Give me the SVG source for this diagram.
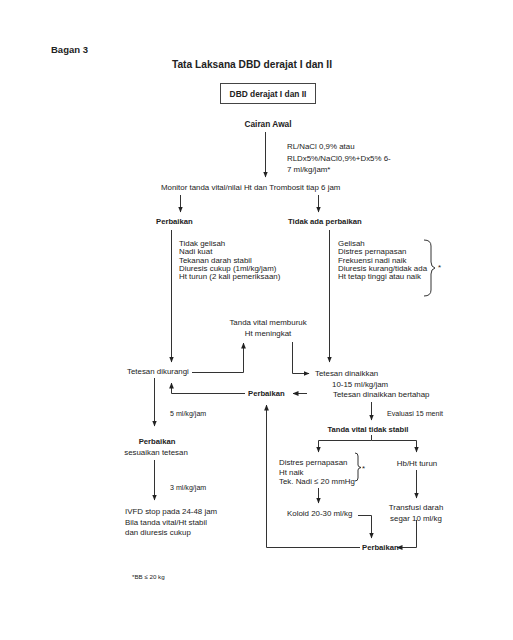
<svg xmlns="http://www.w3.org/2000/svg" width="513" height="640" viewBox="0 0 513 640">
<defs>
<marker id="ah" markerUnits="userSpaceOnUse" markerWidth="6" markerHeight="6" viewBox="0 0 6 6" refX="5.5" refY="3" orient="auto">
<path d="M0,0.6 L6,3 L0,5.4 Z" fill="#222"/>
</marker>
</defs>
<style>
text{font-family:"Liberation Sans",Arial,sans-serif;fill:#222;font-size:7.9px}
.b{font-weight:bold}
.t{font-size:10.2px;font-weight:bold}
.h{font-size:9.5px;font-weight:bold}
.c{text-anchor:middle}
.s{font-size:7.1px}
.f{font-size:6.2px}
.ln{fill:none;stroke:#333;stroke-width:1}
.a{marker-end:url(#ah)}
</style>
<rect width="513" height="640" fill="#fff"/>
<text class="h" x="51" y="53">Bagan 3</text>
<text class="t c" x="252" y="68">Tata Laksana DBD derajat I dan II</text>

<g id="n-dbd">
<rect x="220.5" y="83.5" width="95" height="20" fill="#fff" stroke="#444" stroke-width="1"/>
<text class="b c" x="268" y="96.5" style="font-size:8.4px">DBD derajat I dan II</text>
</g>
<g id="n-cairan"><text class="b c" x="268" y="127" style="font-size:8.3px">Cairan Awal</text></g>
<g id="n-rl">
<text x="287" y="149">RL/NaCl 0,9% atau</text>
<text x="287" y="161">RLDx5%/NaCl0,9%+Dx5% 6-</text>
<text x="287" y="172">7 ml/kg/jam*</text>
</g>
<g id="n-monitor"><text x="161" y="190">Monitor tanda vital/nilai Ht dan Trombosit tiap 6 jam</text></g>
<g id="n-perbaikan1"><text class="b" x="156" y="224" style="font-size:7.7px">Perbaikan</text></g>
<g id="n-tidak"><text class="b" x="288" y="224" style="font-size:7.7px">Tidak ada perbaikan</text></g>
<g id="n-listL">
<text x="179" y="246">Tidak gelisah</text>
<text x="179" y="254.3">Nadi kuat</text>
<text x="179" y="262.6">Tekanan darah stabil</text>
<text x="179" y="270.9">Diuresis cukup (1ml/kg/jam)</text>
<text x="179" y="279.2">Ht turun (2 kali pemeriksaan)</text>
</g>
<g id="n-listR">
<text x="338" y="246">Gelisah</text>
<text x="338" y="254.3">Distres pernapasan</text>
<text x="338" y="262.6">Frekuensi nadi naik</text>
<text x="338" y="270.9">Diuresis kurang/tidak ada</text>
<text x="338" y="279.2">Ht tetap tinggi atau naik</text>
<path class="ln" d="M424,240 Q431,240 431,246 V262 Q431,267 435,268 Q431,269 431,274 V290 Q431,296 424,296"/>
<text x="438" y="270">*</text>
</g>
<g id="n-memburuk">
<text class="c" x="268" y="325">Tanda vital memburuk</text>
<text class="c" x="268" y="336">Ht meningkat</text>
</g>
<g id="n-dikurangi"><text x="127" y="374">Tetesan dikurangi</text></g>
<g id="n-dinaikkan">
<text x="315" y="376">Tetesan dinaikkan</text>
<text x="332" y="387">10-15 ml/kg/jam</text>
<text x="333" y="397">Tetesan dinaikkan bertahap</text>
</g>
<g id="n-perbaikan2"><text class="b" x="248" y="396" style="font-size:7.7px">Perbaikan</text></g>
<g id="n-5ml"><text class="s" x="170" y="415.5">5 ml/kg/jam</text></g>
<g id="n-perbaikan3">
<text class="b c" x="157" y="444" style="font-size:7.7px">Perbaikan</text>
<text class="c" x="156" y="455">sesuaikan tetesan</text>
</g>
<g id="n-3ml"><text class="s" x="170" y="489.5">3 ml/kg/jam</text></g>
<g id="n-ivfd">
<text x="125" y="514">IVFD stop pada 24-48 jam</text>
<text x="125" y="524.5">Bila tanda vital/Ht stabil</text>
<text x="125" y="535">dan diuresis cukup</text>
</g>
<g id="n-eval"><text class="s" x="387" y="415.5">Evaluasi 15 menit</text></g>
<g id="n-tvts"><text class="b c" x="368" y="432" style="font-size:7.6px">Tanda vital tidak stabil</text></g>
<g id="n-distres">
<text x="279" y="465">Distres pernapasan</text>
<text x="279" y="474.5">Ht naik</text>
<text x="279" y="484">Tek. Nadi ≤ 20 mmHg</text>
<path class="ln" d="M355,453 Q358,453 358,456 V465 Q358,467 361,467.5 Q358,468 358,470 V478 Q358,481 355,481"/>
<text x="362" y="471">*</text>
</g>
<g id="n-hbht"><text class="c" x="417" y="466">Hb/Ht turun</text></g>
<g id="n-koloid"><text x="287" y="516">Koloid 20-30 ml/kg</text></g>
<g id="n-transfusi">
<text class="c" x="416" y="510">Transfusi darah</text>
<text class="c" x="416" y="521">segar 10 ml/kg</text>
</g>
<g id="n-perbaikan4"><text class="b" x="362" y="550" style="font-size:7.7px">Perbaikan</text></g>
<g id="n-foot"><text class="f" x="132" y="579">*BB ≤ 20 kg</text></g>

<g id="connectors">
<path class="ln a" d="M265.5,132 V177"/>
<path class="ln a" d="M180.5,195 V212"/>
<path class="ln a" d="M318.5,195 V212"/>
<path class="ln a" d="M171.5,230 V362"/>
<path class="ln a" d="M329.5,230 V362"/>
<path class="ln a" d="M192,372.5 H243.5 V343"/>
<path class="ln a" d="M292.5,342 V373.5 H309"/>
<path class="ln a" d="M307,393.5 H293"/>
<path class="ln a" d="M245,393.5 H171.5 V383"/>
<path class="ln a" d="M154.5,378 V426"/>
<path class="ln a" d="M154.5,460 V500"/>
<path class="ln a" d="M371.5,402 V420"/>
<path class="ln a" d="M371.5,435 V440.5 H318.5 V452"/>
<path class="ln a" d="M371.5,440.5 H416.5 V452"/>
<path class="ln a" d="M416.5,470 V498"/>
<path class="ln a" d="M318.5,488 V503"/>
<path class="ln a" d="M358,515.5 H371.5 V538"/>
<path class="ln a" d="M416.5,520 V547.5 H397"/>
<path class="ln a" d="M360,547.5 H266.5 V405"/>
</g>
</svg>
